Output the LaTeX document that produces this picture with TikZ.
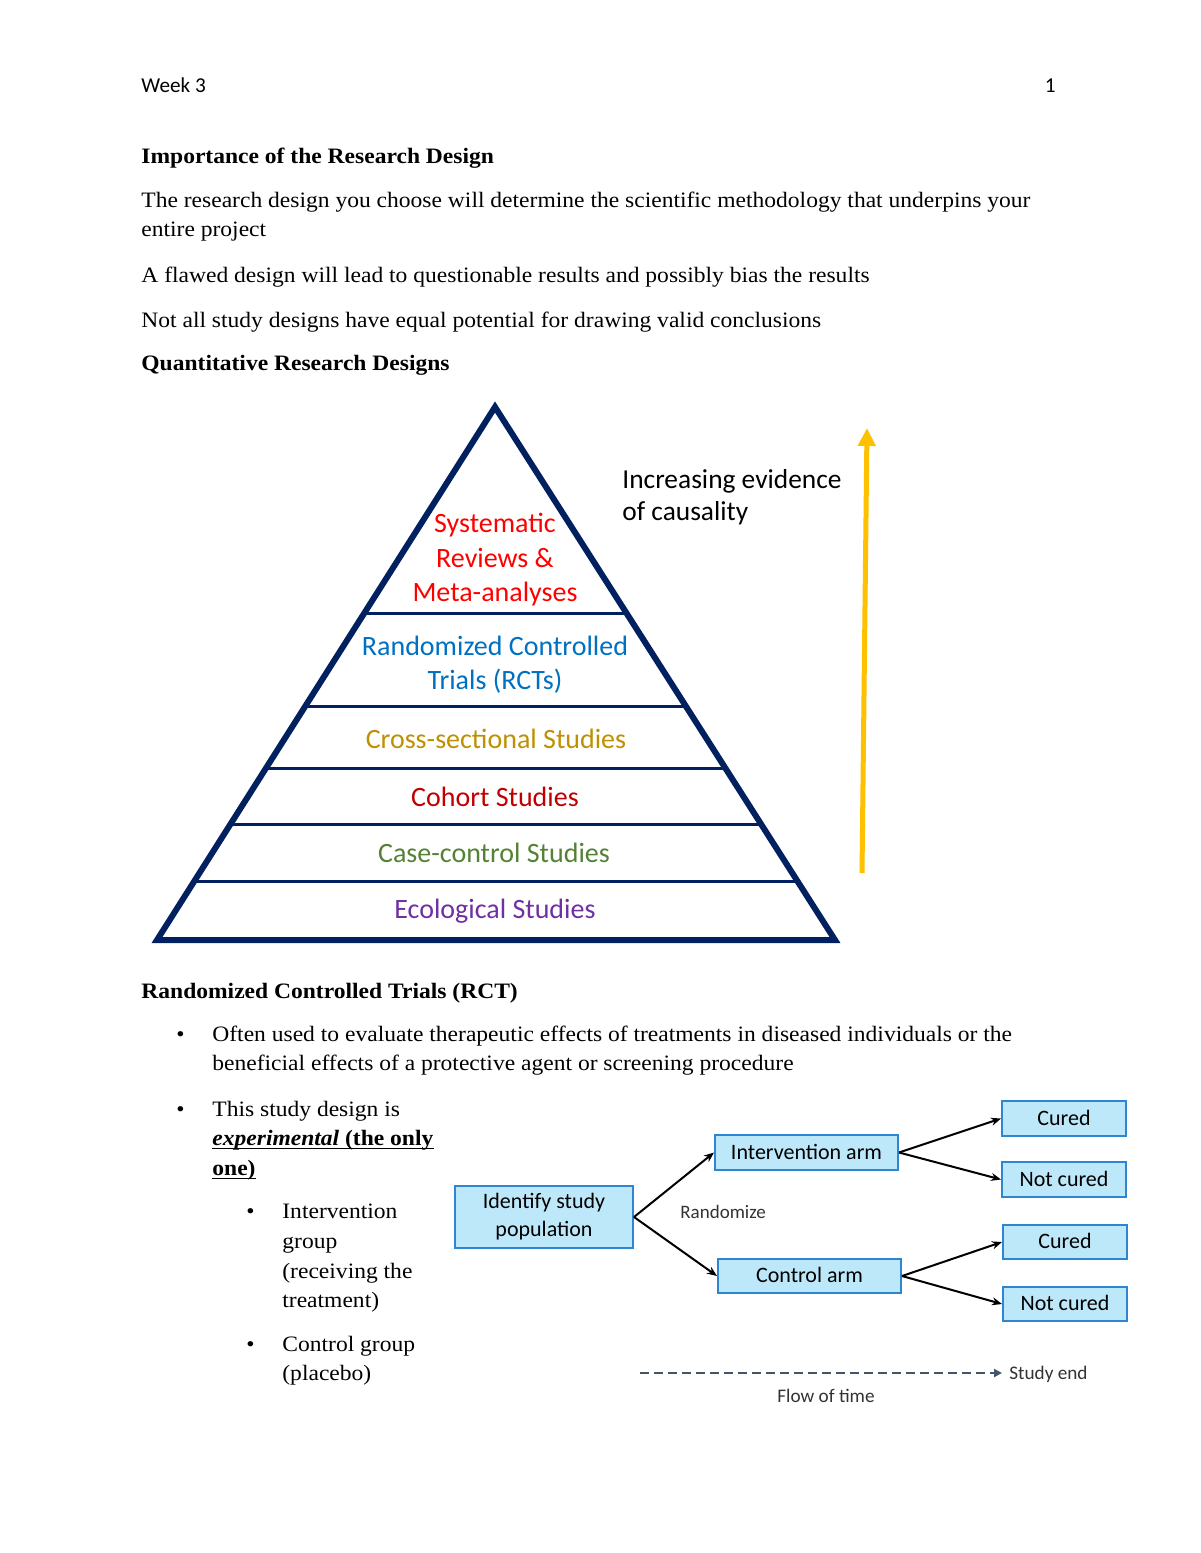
\documentclass[tikz,border=0pt]{standalone}
\usepackage{fontspec}
\setmainfont[FakeStretch=1.07]{Liberation Serif}
\newfontfamily\calib{Carlito}
\usetikzlibrary{arrows.meta}
\definecolor{navy}{HTML}{002060}
\definecolor{pred}{HTML}{FF0000}
\definecolor{pblue}{HTML}{0070C0}
\definecolor{pgold}{HTML}{BF9000}
\definecolor{pdred}{HTML}{C00000}
\definecolor{pgreen}{HTML}{548235}
\definecolor{ppurple}{HTML}{7030A0}
\definecolor{arrowyellow}{HTML}{FFC000}
\definecolor{boxfill}{HTML}{BDE8FA}
\definecolor{boxline}{HTML}{2E86D0}
\definecolor{timegray}{HTML}{44546A}
\definecolor{labgray}{HTML}{333333}
\tikzset{
  body/.style={anchor=base west, inner sep=0pt, font=\fontsize{11}{13}\selectfont},
  head/.style={body, font=\fontsize{11}{13}\selectfont\bfseries},
  plab/.style={anchor=base, inner sep=0pt, font=\calib\fontsize{14}{16}\selectfont},
  fboxbase/.style={draw=boxline, fill=boxfill, line width=1pt, inner sep=0pt, align=center,
    font=\calib\fontsize{11}{14}\selectfont},
  fbox/.style={fboxbase, text height=0.75em, text depth=0.1em},
  flow/.style={draw=black, line width=1pt, -{Stealth[length=5pt,width=4pt]}},
  divider/.style={draw=navy, line width=1.5pt},
  uline/.style={draw=black, line width=0.6pt},
}
\begin{document}
\begin{tikzpicture}[x=0.5pt,y=-0.5pt]
\useasboundingbox (0,0) rectangle (1200,1553);
\fill[white] (0,0) rectangle (1200,1553);

% header
\node[anchor=base west, inner sep=0pt, font=\calib\fontsize{10.6}{12}\selectfont] (wk) at (141,92) {Week 3};
\node[anchor=base east, inner sep=0pt, font=\calib\fontsize{10.6}{12}\selectfont] (pg) at (1056,92) {1};

% first section
\node[head] (h1) at (141,163) {Importance of the Research Design};
\node[body] (t1) at (141,207) {The research design you choose will determine the scientific methodology that underpins your};
\node[body] (t2) at (141,236) {entire project};
\node[body] (t3) at (141,282) {A flawed design will lead to questionable results and possibly bias the results};
\node[body] (t4) at (141,327) {Not all study designs have equal potential for drawing valid conclusions};
\node[head] (h2) at (141,370) {Quantitative Research Designs};

% pyramid
\draw[navy, line width=3pt, line join=miter] (495,407) -- (835,940) -- (157,940) -- cycle;
\draw[divider] (364.4,613) -- (625.6,613);
\draw[divider] (305.4,706) -- (684.6,706);
\draw[divider] (266.1,768) -- (723.9,768);
\draw[divider] (230.6,824) -- (759.4,824);
\draw[divider] (194.5,881) -- (795.5,881);

\node[plab, text=pred] (p1a) at (495,532) {Systematic};
\node[plab, text=pred] (p1b) at (495,567) {Reviews \&};
\node[plab, text=pred] (p1c) at (495,601) {Meta-analyses};
\node[plab, text=pblue] (p2a) at (495,655) {Randomized Controlled};
\node[plab, text=pblue] (p2b) at (495,689) {Trials (RCTs)};
\node[plab, text=pgold] (p3) at (496,748) {Cross-sectional Studies};
\node[plab, text=pdred] (p4) at (495,806) {Cohort Studies};
\node[plab, text=pgreen] (p5) at (494,862) {Case-control Studies};
\node[plab, text=ppurple] (p6) at (495,918) {Ecological Studies};

\node[anchor=base west, inner sep=0pt, font=\calib\fontsize{13.7}{16}\selectfont] (ev1) at (622,488) {Increasing evidence};
\node[anchor=base west, inner sep=0pt, font=\calib\fontsize{13.7}{16}\selectfont] (ev2) at (622,520) {of causality};

\coordinate (ya) at (862,873);
\coordinate (yb) at (867,428);
\draw[arrowyellow, line width=2.5pt, -{Triangle[length=9pt,width=8.5pt]}] (ya) -- (yb);

% RCT section
\node[head] (h3) at (141,998) {Randomized Controlled Trials (RCT)};
\node[body] (b1) at (176,1041) {\textbullet};
\node[body] (t5) at (212,1041) {Often used to evaluate therapeutic effects of treatments in diseased individuals or the};
\node[body] (t6) at (212,1070) {beneficial effects of a protective agent or screening procedure};
\node[body] (b2) at (176,1116) {\textbullet};
\node[body] (t7) at (212,1116) {This study design is};
\node[body] (t8) at (212,1145) {\textbf{\textit{experimental} (the only}};
\node[body] (t9) at (212,1175) {\textbf{one)}};
\draw[uline] ([yshift=-1.6pt]t8.base west) -- ([yshift=-1.6pt]t8.base east);
\draw[uline] ([yshift=-1.6pt]t9.base west) -- ([yshift=-1.6pt]t9.base east);
\node[body] (b3) at (246,1218) {\textbullet};
\node[body] (t10) at (282,1218) {Intervention};
\node[body] (t11) at (282,1248) {group};
\node[body] (t12) at (282,1278) {(receiving the};
\node[body] (t13) at (282,1307) {treatment)};
\node[body] (b4) at (246,1351) {\textbullet};
\node[body] (t14) at (282,1351) {Control group};
\node[body] (t15) at (282,1380) {(placebo)};

% flowchart
\node[fboxbase, minimum width=89pt, minimum height=31pt] (pop) at (544,1217) {Identify study\\population};
\node[fbox, minimum width=91.5pt, minimum height=17.5pt] (int) at (806.5,1152.5) {Intervention arm};
\node[fbox, minimum width=91.5pt, minimum height=17pt] (ctl) at (809.5,1276) {Control arm};
\node[fbox, minimum width=62pt, minimum height=17.5pt] (c1) at (1064,1118.5) {Cured};
\node[fbox, minimum width=62pt, minimum height=17.5pt] (n1) at (1064,1179.5) {Not cured};
\node[fbox, minimum width=62pt, minimum height=17pt] (c2) at (1065,1242) {Cured};
\node[fbox, minimum width=62pt, minimum height=17pt] (n2) at (1065,1304) {Not cured};

\draw[flow] (pop.east) -- (int.west);
\draw[flow] (pop.east) -- (ctl.west);
\draw[flow] (int.east) -- (c1.west);
\draw[flow] (int.east) -- (n1.west);
\draw[flow] (ctl.east) -- (c2.west);
\draw[flow] (ctl.east) -- (n2.west);

\node[anchor=base west, inner sep=0pt, text=labgray, font=\calib\fontsize{9.5}{10}\selectfont] (rnd) at (680,1218) {Randomize};

\coordinate (ts) at (640,1373);
\coordinate (te) at (1002,1373);
\draw[timegray, line width=1pt, dash pattern=on 4.5pt off 2.5pt, -{Triangle[length=4pt,width=4pt]}] (ts) -- (te);
\node[anchor=base west, inner sep=0pt, text=labgray, font=\calib\fontsize{9.6}{11}\selectfont] (se) at (1009,1379) {Study end};
\node[anchor=base, inner sep=0pt, text=labgray, font=\calib\fontsize{9.6}{11}\selectfont] (fot) at (826,1402) {Flow of time};
\end{tikzpicture}
\end{document}
